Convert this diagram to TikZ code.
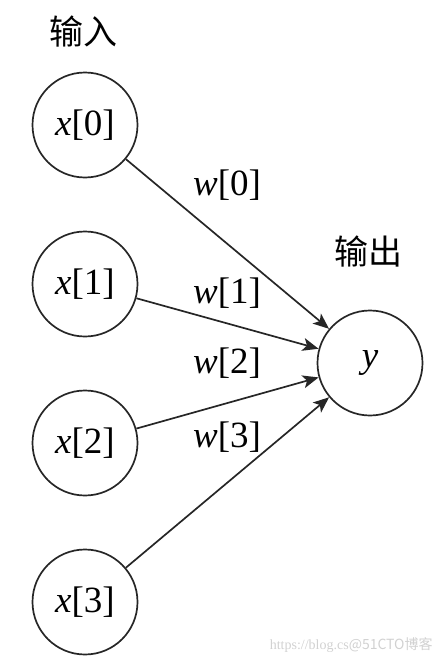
\documentclass[tikz,border=0pt]{standalone}
\usepackage{fontspec}
\setmainfont{Liberation Serif}
\newfontfamily\cjk{Noto Sans CJK SC}
\usetikzlibrary{arrows.meta}
\begin{document}
\begin{tikzpicture}[x=0.5pt,y=-0.5pt,
  neuron/.style={circle,draw=black!85,line width=0.85pt,minimum size=52.5pt,inner sep=0pt,font=\fontsize{18.5}{20}\selectfont},
  wlabel/.style={font=\fontsize{18.5}{20}\selectfont,inner sep=0pt},
  cjklabel/.style={font=\cjk\fontsize{17}{20}\selectfont,inner sep=0pt},
  conn/.style={draw=black!85,line width=0.85pt,-{Stealth[length=8pt,width=6.5pt,inset=2pt]}}]
\useasboundingbox (0,0) rectangle (444,664);
\node[neuron] (x0) at (85,125) {\textit{x}[0]};
\node[neuron] (x1) at (85,284) {\textit{x}[1]};
\node[neuron] (x2) at (85,443) {\textit{x}[2]};
\node[neuron] (x3) at (85,602) {\textit{x}[3]};
\node[neuron] (y) at (370,363) {\textit{y}};
\node[cjklabel] (in) at (83,32) {输入};
\node[cjklabel] (out) at (368,252) {输出};
\draw[conn] (x0) -- (y);
\draw[conn] (x1) -- (y);
\draw[conn] (x2) -- (y);
\draw[conn] (x3) -- (y);
\node[wlabel] (w0) at (227,185) {\textit{w}[0]};
\node[wlabel] (w1) at (227,293) {\textit{w}[1]};
\node[wlabel] (w2) at (227,363) {\textit{w}[2]};
\node[wlabel] (w3) at (227,437) {\textit{w}[3]};
\node[font=\fontsize{7}{8}\selectfont,text=black!18,inner sep=0pt,anchor=east] (wm) at (433,645) {https://blog.cs{\cjk @51CTO博客}};
\end{tikzpicture}
\end{document}
